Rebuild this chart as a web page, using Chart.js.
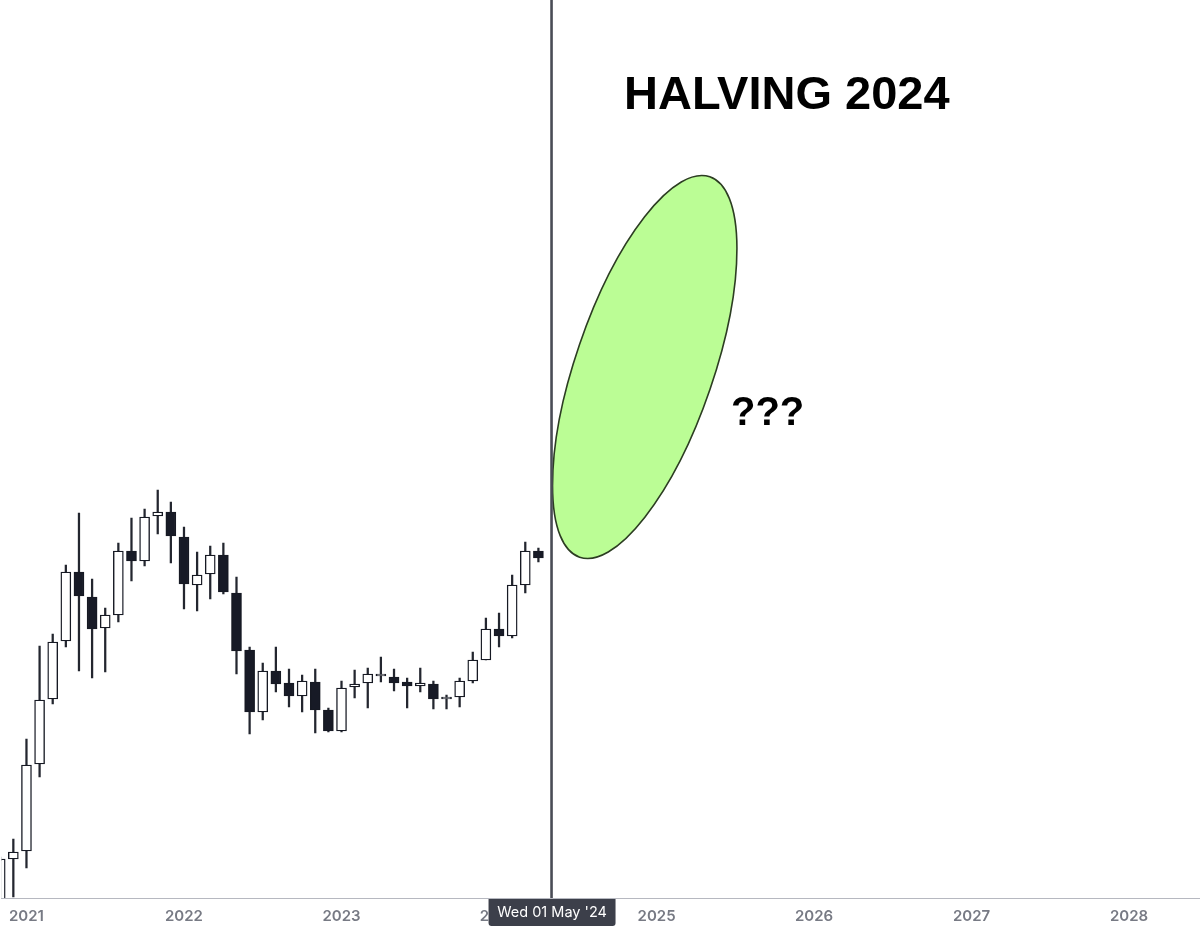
<!DOCTYPE html>
<html>
<head>
<meta charset="utf-8">
<title>Halving 2024</title>
<script src="https://cdn.jsdelivr.net/npm/chart.js@4.4.1/dist/chart.umd.min.js"></script>
<style>
    html, body { margin: 0; padding: 0; background: #ffffff; }
    #wrap { width: 1200px; height: 931px; position: relative; }
</style>
</head>
<body>
<div id="wrap"><canvas id="chart"></canvas></div>
<script>
// Bougies mensuelles (unités de prix arbitraires)
const months = [
    '2020-11', '2020-12',
    '2021-01', '2021-02', '2021-03', '2021-04', '2021-05', '2021-06',
    '2021-07', '2021-08', '2021-09', '2021-10', '2021-11', '2021-12',
    '2022-01', '2022-02', '2022-03', '2022-04', '2022-05', '2022-06',
    '2022-07', '2022-08', '2022-09', '2022-10', '2022-11', '2022-12',
    '2023-01', '2023-02', '2023-03', '2023-04', '2023-05', '2023-06',
    '2023-07', '2023-08', '2023-09', '2023-10', '2023-11', '2023-12',
    '2024-01', '2024-02', '2024-03', '2024-04'
];
const open  = [ 90, 141, 149, 236, 301, 359, 428, 403, 372, 385, 449, 439, 484, 488,
                463, 415, 426, 445, 407, 350, 288, 329, 317, 304, 318, 290,
                269, 313, 317, 324, 323, 318, 314, 316, 301, 303, 319, 340,
                371, 364, 415, 449];
const high  = [143, 161, 261, 354, 366, 435, 487, 421, 392, 457, 482, 491, 510, 498,
               473, 448, 454, 457, 423, 353, 337, 353, 331, 325, 331, 292,
               319, 330, 332, 343, 331, 322, 332, 319, 305, 322, 348, 382,
               387, 425, 458, 452];
const low   = [ 85, 103, 132, 223, 296, 353, 329, 322, 328, 378, 419, 434, 466, 437,
               391, 389, 401, 406, 326, 266, 280, 308, 293, 288, 267, 268,
               268, 302, 292, 318, 309, 292, 308, 291, 291, 293, 317, 340,
               353, 362, 407, 438];
const close = [141, 148, 235, 300, 358, 428, 404, 371, 385, 449, 439, 483, 488, 464,
               416, 425, 445, 408, 349, 288, 329, 316, 304, 319, 290, 269,
               312, 316, 326, 326, 317, 314, 317, 301, 303, 319, 340, 371,
               364, 415, 449, 442];

// Axe des années
const tickYears = ['2021', '2022', '2023', '2024', '2025', '2026', '2027', '2028'];
const halvingMonth = '2024-05';
const halvingLabel = "Wed 01 May '24";

// Conversion 'AAAA-MM' -> index de mois (0 = janvier 2021)
function monthIndex(s) {
    const [y, m] = s.split('-').map(Number);
    return (y - 2021) * 12 + (m - 1);
}

const xs = months.map(monthIndex);
const bodies = xs.map((x, i) => ({ x: x, y: [Math.min(open[i], close[i]), Math.max(open[i], close[i])] }));
const wicks = xs.map((x, i) => ({ x: x, y: [low[i], high[i]] }));
const bodyColors = open.map((o, i) => close[i] >= o ? '#ffffff' : '#171a26');

const INK = '#161923';

// Annotations : ligne du halving, ellipse, textes
const annotations = {
    id: 'annotations',
    afterDatasetsDraw(chart) {
        const { ctx, chartArea, scales } = chart;
        const xLine = scales.x.getPixelForValue(monthIndex(halvingMonth));

        // ellipse verte
        const cx = scales.x.getPixelForValue(47.1);
        const cy = scales.y.getPixelForValue(633);
        ctx.save();
        ctx.beginPath();
        ctx.ellipse(cx, cy, 69, 201, 18.9 * Math.PI / 180, 0, Math.PI * 2);
        ctx.fillStyle = '#bbfd95';
        ctx.fill();
        ctx.lineWidth = 1.6;
        ctx.strokeStyle = '#2c3d22';
        ctx.stroke();

        // ligne verticale
        ctx.beginPath();
        ctx.moveTo(xLine, chartArea.top);
        ctx.lineTo(xLine, chartArea.bottom);
        ctx.lineWidth = 2.6;
        ctx.strokeStyle = '#4a4c56';
        ctx.stroke();

        // textes
        ctx.fillStyle = '#000000';
        ctx.textBaseline = 'alphabetic';
        ctx.textAlign = 'left';
        ctx.font = 'bold 47px "Liberation Sans", Arial, sans-serif';
        ctx.fillText('HALVING 2024', 624, 109);
        ctx.font = 'bold 40px "Liberation Sans", Arial, sans-serif';
        ctx.fillText('???', 731, 425);
        ctx.restore();
    },
    afterDraw(chart) {
        const { ctx, chartArea, scales } = chart;
        const xLine = scales.x.getPixelForValue(monthIndex(halvingMonth));
        ctx.save();
        const w = 127, h = 27;
        const x0 = xLine - 63, y0 = chartArea.bottom + 1;
        ctx.fillStyle = '#3c3f4a';
        ctx.beginPath();
        ctx.roundRect(x0, y0, w, h, [0, 0, 3, 3]);
        ctx.fill();
        ctx.fillStyle = '#ffffff';
        ctx.font = '14.5px Inter, "Noto Sans", sans-serif';
        ctx.textAlign = 'center';
        ctx.textBaseline = 'middle';
        ctx.fillText(halvingLabel, x0 + w / 2, y0 + h / 2 + 0.5);
        ctx.restore();
    }
};

new Chart(document.getElementById('chart'), {
    type: 'bar',
    data: {
        datasets: [{
            label: 'Corps',
            data: bodies,
            backgroundColor: bodyColors,
            borderColor: INK,
            borderWidth: 1.4,
            borderSkipped: false,
            barThickness: 10,
            grouped: false
        }, {
            label: 'Mèches',
            data: wicks,
            backgroundColor: '#23262f',
            borderWidth: 0,
            barThickness: 1.6,
            grouped: false
        }]
    },
    options: {
        responsive: true,
        maintainAspectRatio: false,
        animation: false,
        layout: { padding: 0 },
        plugins: {
            legend: { display: false },
            tooltip: { enabled: false }
        },
        scales: {
            x: {
                type: 'linear',
                min: -1.9,
                max: 89.4,
                offset: false,
                grid: { display: false, offset: false, drawTicks: false },
                border: { display: true, color: '#b6b8c0', width: 1 },
                afterBuildTicks: axis => {
                    axis.ticks = tickYears.map((_, i) => ({ value: i * 12 }));
                },
                afterFit: axis => { axis.height = 33; },
                ticks: {
                    autoSkip: false,
                    maxRotation: 0,
                    padding: 9,
                    color: '#777a84',
                    font: { family: 'Inter, "Noto Sans", sans-serif', size: 15, weight: '600' },
                    callback: (value, i) => tickYears[i]
                }
            },
            y: {
                display: false,
                min: 102,
                max: 1000
            }
        }
    },
    plugins: [annotations]
});
</script>
</body>
</html>
